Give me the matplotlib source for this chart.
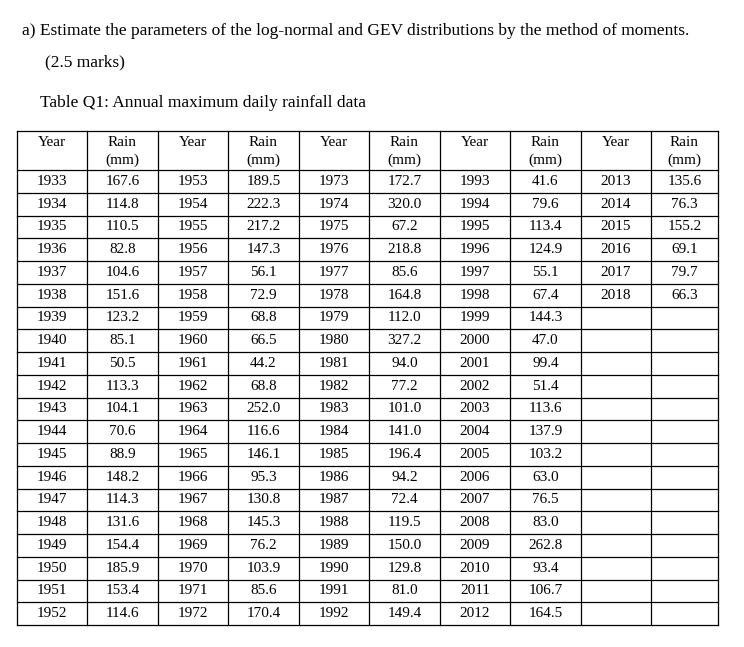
import matplotlib
matplotlib.use("Agg")
import matplotlib.pyplot as plt

years_start = [1933, 1953, 1973, 1993, 2013]
rain_1 = [167.6,114.8,110.5,82.8,104.6,151.6,123.2,85.1,50.5,113.3,104.1,70.6,88.9,148.2,114.3,131.6,154.4,185.9,153.4,114.6]
rain_2 = [189.5,222.3,217.2,147.3,56.1,72.9,68.8,66.5,44.2,68.8,252.0,116.6,146.1,95.3,130.8,145.3,76.2,103.9,85.6,170.4]
rain_3 = [172.7,320.0,67.2,218.8,85.6,164.8,112.0,327.2,94.0,77.2,101.0,141.0,196.4,94.2,72.4,119.5,150.0,129.8,81.0,149.4]
rain_4 = [41.6,79.6,113.4,124.9,55.1,67.4,144.3,47.0,99.4,51.4,113.6,137.9,103.2,63.0,76.5,83.0,262.8,93.4,106.7,164.5]
rain_5 = [135.6,76.3,155.2,69.1,79.7,66.3]
rains = [rain_1, rain_2, rain_3, rain_4, rain_5]

title_a = "a) Estimate the parameters of the log-normal and GEV distributions by the method of moments."
marks = "(2.5 marks)"
caption = "Table Q1: Annual maximum daily rainfall data"

W, H = 744, 647
fig = plt.figure(figsize=(W/100, H/100), dpi=100)
ax = fig.add_axes([0, 0, 1, 1])
ax.set_xlim(0, W); ax.set_ylim(H, 0); ax.axis("off")
ff = "Liberation Serif"

ax.text(22, 31, title_a, fontsize=12.5, family=ff, va="center")
ax.text(45, 62, marks, fontsize=12.5, family=ff, va="center")
ax.text(40, 103, caption, fontsize=12.5, family=ff, va="center")

xs = [17, 87, 158, 228, 299, 369, 440, 510, 581, 651, 718]
top, head_bot, bot = 131, 170, 625
nrows = 20
rh = (bot - head_bot) / nrows
lw = 0.9
for x in xs:
    ax.plot([x, x], [top, bot], color="black", lw=lw)
for y in [top, head_bot] + [head_bot + rh*i for i in range(1, nrows+1)]:
    ax.plot([xs[0], xs[-1]], [y, y], color="black", lw=lw)

fs = 11
for c in range(5):
    cy = (xs[2*c] + xs[2*c+1]) / 2
    cr = (xs[2*c+1] + xs[2*c+2]) / 2
    ax.text(cy, 143, "Year", fontsize=fs, family=ff, ha="center", va="center")
    ax.text(cr, 143, "Rain", fontsize=fs, family=ff, ha="center", va="center")
    ax.text(cr, 160, "(mm)", fontsize=fs, family=ff, ha="center", va="center")
    for i, v in enumerate(rains[c]):
        y = head_bot + rh*(i + 0.5)
        ax.text(cy, y, str(years_start[c] + i), fontsize=fs, family=ff, ha="center", va="center")
        ax.text(cr, y, f"{v:.1f}", fontsize=fs, family=ff, ha="center", va="center")

fig.savefig("out.png", dpi=100, facecolor="white")
